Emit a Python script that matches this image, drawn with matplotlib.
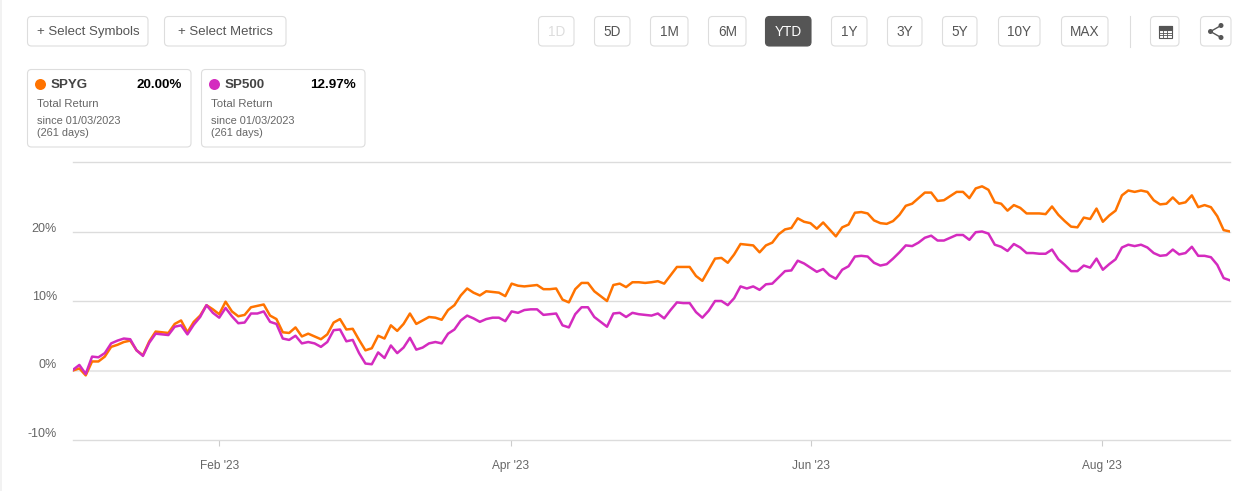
import matplotlib
matplotlib.use("Agg")
import matplotlib.pyplot as plt
from matplotlib.patches import FancyBboxPatch, Circle, Rectangle
from matplotlib.transforms import ScaledTranslation

plt.rcParams['font.family'] = ['Liberation Sans', 'DejaVu Sans']

# Total return in percent, one value per session
spyg = [0.0, 0.3, -0.7, 1.3, 1.3, 2.0, 3.4, 3.7, 4.1, 4.3, 2.9, 2.2, 4.2, 5.6, 5.5, 5.4,
        6.7, 7.2, 5.5, 7.0, 7.9, 9.4, 8.8, 8.1, 9.9, 8.5, 7.8, 8.0, 9.1, 9.3, 9.5,
        7.9, 7.4, 5.5, 5.4, 6.2, 4.9, 5.3, 4.9, 4.5, 5.2, 6.9, 7.4, 5.9, 6.0, 4.4,
        2.9, 3.2, 5.0, 4.6, 6.5, 5.7, 6.7, 8.2, 6.7, 7.2, 7.7, 7.6, 7.3, 8.7, 9.4,
        10.8, 11.8, 11.2, 10.8, 11.4, 11.3, 11.2, 10.7, 12.5, 12.2, 12.1, 12.2, 12.3,
        11.7, 11.7, 11.8, 10.2, 9.8, 11.7, 12.6, 12.6, 11.4, 10.7, 10.0, 12.3, 12.5,
        12.0, 12.7, 12.7, 12.6, 12.7, 12.85, 12.5, 13.7, 14.9, 14.9, 14.9, 13.6, 12.9,
        14.5, 16.1, 16.2, 15.5, 16.7, 18.2, 18.1, 18.0, 17.0, 18.0, 18.4, 19.6, 20.3,
        20.5, 21.9, 21.4, 21.2, 20.4, 21.3, 20.3, 19.3, 20.6, 21.0, 22.7, 22.8, 22.6,
        21.6, 21.2, 21.1, 21.5, 22.4, 23.7, 24.0, 24.8, 25.6, 25.6, 24.4, 24.5, 25.1,
        25.7, 25.7, 24.8, 26.2, 26.5, 26.0, 24.2, 24.0, 23.0, 23.8, 23.4, 22.6, 22.6,
        22.6, 22.5, 23.6, 22.4, 21.5, 20.7, 20.6, 22.0, 21.8, 23.3, 21.4, 22.3, 23.0,
        25.2, 25.9, 25.7, 25.9, 25.7, 24.5, 23.9, 24.0, 24.9, 24.0, 24.2, 25.2, 23.5,
        23.8, 23.5, 22.2, 20.2, 20.0]
sp500 = [0.1, 0.8, -0.5, 2.0, 1.9, 2.5, 3.9, 4.3, 4.6, 4.5, 2.9, 2.1, 4.0, 5.3, 5.2, 5.1,
         6.3, 6.5, 5.2, 6.6, 7.7, 9.4, 8.3, 7.6, 9.0, 7.8, 6.8, 6.9, 8.2, 8.2, 8.5,
         7.0, 6.7, 4.6, 4.4, 5.0, 3.9, 4.1, 3.9, 3.4, 4.1, 5.8, 5.9, 4.2, 4.4, 2.5,
         1.0, 0.9, 2.6, 1.8, 3.6, 2.5, 3.3, 4.7, 3.0, 3.3, 3.9, 4.1, 3.9, 5.3, 5.9,
         7.2, 7.9, 7.5, 7.0, 7.4, 7.6, 7.6, 7.1, 8.5, 8.3, 8.7, 8.8, 8.8,
         8.0, 8.1, 8.2, 6.5, 6.2, 8.1, 9.1, 9.1, 7.7, 7.0, 6.3, 8.2, 8.3,
         7.7, 8.3, 8.1, 8.0, 7.9, 8.2, 7.5, 8.7, 9.8, 9.7, 9.7, 8.4, 7.6,
         8.6, 10.0, 10.0, 9.4, 10.4, 12.1, 11.8, 12.1, 11.6, 12.4, 12.5, 13.4, 14.3,
         14.4, 15.8, 15.4, 14.8, 14.2, 14.6, 13.7, 13.2, 14.5, 15.0, 16.4, 16.5, 16.4,
         15.5, 15.1, 15.3, 16.1, 17.0, 18.0, 17.9, 18.4, 19.1, 19.4, 18.7, 18.7, 19.1,
         19.5, 19.5, 18.8, 19.9, 20.0, 19.7, 18.1, 17.8, 17.2, 18.2, 17.7, 16.9, 16.9,
         16.8, 16.8, 17.4, 16.0, 15.2, 14.3, 14.3, 15.1, 14.8, 16.1, 14.5, 15.3, 16.0,
         17.7, 18.1, 17.9, 18.1, 17.7, 16.9, 16.5, 16.6, 17.4, 16.7, 16.9, 17.8, 16.5,
         16.5, 16.3, 15.2, 13.3, 12.97]

y_ticks = [-10, 0, 10, 20, 30]
y_labels = ['-10%', '0%', '10%', '20%', '']
x_ticks = [23.0, 68.9, 116.1, 161.9]
x_labels = ["Feb '23", "Apr '23", "Jun '23", "Aug '23"]

ranges = ['1D', '5D', '1M', '6M', 'YTD', '1Y', '3Y', '5Y', '10Y', 'MAX']
range_edges = [(538, 574), (594, 630), (650, 688), (708, 746), (765, 811),
               (831, 867), (887, 922), (942, 977), (998, 1040), (1061, 1108)]

ORANGE = '#ff7300'
MAGENTA = '#d42bbf'
W, H = 1246, 491

fig = plt.figure(figsize=(W / 100, H / 100), dpi=100)

# Page layer in pixel coordinates for the buttons and cards
ui = fig.add_axes([0, 0, 1, 1])
ui.set_xlim(0, W)
ui.set_ylim(H, 0)
ui.axis('off')


def box(x0, y0, x1, y1, face='white', edge='#dddddd'):
    ui.add_patch(FancyBboxPatch((x0 + 4.5, y0 + 4.5), x1 - x0 - 8.5, y1 - y0 - 8.5,
                                boxstyle='round,pad=4,rounding_size=4',
                                fc=face, ec=edge, lw=0.8))


ui.add_patch(Rectangle((0, 0), 1.5, H, fc='#f2f2f2', ec='none'))

box(27, 16, 148, 46)
ui.text(88, 31.5, '+ Select Symbols', ha='center', va='center', fontsize=9.5, color='#555555')
box(164, 16, 286, 46)
ui.text(225.5, 31.5, '+ Select Metrics', ha='center', va='center', fontsize=9.5, color='#555555')

for name, (x0, x1) in zip(ranges, range_edges):
    if name == 'YTD':
        box(x0, 16, x1, 46, face='#555555', edge='#555555')
        color = 'white'
    else:
        box(x0, 16, x1, 46)
        color = '#dddddd' if name == '1D' else '#555555'
    ui.text((x0 + x1) / 2 + 0.5, 31.5, name, ha='center', va='center', fontsize=9.8, color=color)

ui.plot([1129.5, 1129.5], [16, 47], color='#dddddd', lw=0.8)

# Table icon
box(1150, 16, 1179, 46)
ui.add_patch(Rectangle((1158.5, 25.5), 13, 12, fc='white', ec='#555555', lw=0.8))
ui.add_patch(Rectangle((1158.5, 25.5), 13, 4, fc='#555555', ec='#555555', lw=0.8))
for gx in [1163, 1167]:
    ui.plot([gx, gx], [29, 37.5], color='#555555', lw=0.6)
for gy in [32.5, 35]:
    ui.plot([1158.5, 1171.5], [gy, gy], color='#555555', lw=0.6)

# Share icon
box(1200, 16, 1231, 46)
ui.plot([1221, 1210.5, 1221], [25.5, 31.5, 37.5], color='#555555', lw=1)
for cx, cy in [(1221, 25.5), (1210.5, 31.5), (1221, 37.5)]:
    ui.add_patch(Circle((cx, cy), 2.5, fc='#555555', ec='none'))

# Legend cards
cards = [(27, 191, 'SPYG', '20.00%', ORANGE), (201, 365, 'SP500', '12.97%', MAGENTA)]
for x0, x1, name, value, color in cards:
    box(x0, 69, x1, 147)
    ui.add_patch(Circle((x0 + 13.5, 84.5), 5.5, fc=color, ec='none'))
    ui.text(x0 + 24, 85, name, va='center', fontsize=9.6, fontweight='bold', color='#444444')
    ui.text(x1 - 9, 85, value, va='center', ha='right', fontsize=9.6, fontweight='bold', color='black')
    ui.text(x0 + 10, 103.5, 'Total Return', va='center', fontsize=8.2, color='#666666')
    ui.text(x0 + 10, 120.5, 'since 01/03/2023', va='center', fontsize=7.9, color='#666666')
    ui.text(x0 + 10, 133.5, '(261 days)', va='center', fontsize=7.9, color='#666666')

# Chart
ax = fig.add_axes([73 / W, 1 - 440 / H, (1230 - 73) / W, (440 - 162) / H])
ax.patch.set_alpha(0)
ax.plot(spyg, color=ORANGE, lw=1.8, solid_joinstyle='round', zorder=3)
ax.plot(sp500, color=MAGENTA, lw=1.8, solid_joinstyle='round', zorder=4)
ax.set_xlim(0, 182)
ax.set_ylim(-10, 30)
ax.set_yticks(y_ticks)
ax.set_yticklabels(y_labels, va='bottom', fontsize=9, color='#666666')
ax.set_xticks(x_ticks)
ax.set_xticklabels(x_labels, fontsize=8.6, color='#666666')
ax.tick_params(axis='y', length=0, pad=11.5)
ax.tick_params(axis='x', length=4.5, width=0.8, color='#cccccc', pad=10)
ax.grid(axis='y', color='#dcdcdc', lw=1)
ax.set_axisbelow(True)
for side in ['top', 'right', 'left', 'bottom']:
    ax.spines[side].set_visible(False)

# The page spaces its labels a little tighter than the grid
label_shift = [0, 0, -2, -3, 0]
for label, shift in zip(ax.get_yticklabels(), label_shift):
    label.set_transform(label.get_transform() + ScaledTranslation(0, shift / 100, fig.dpi_scale_trans))

for line in ax.get_ygridlines():
    line.set_clip_on(False)
ax.get_ygridlines()[1].set(color='#e8e8e8', lw=1.5)

plt.savefig('out.png', dpi=100)
